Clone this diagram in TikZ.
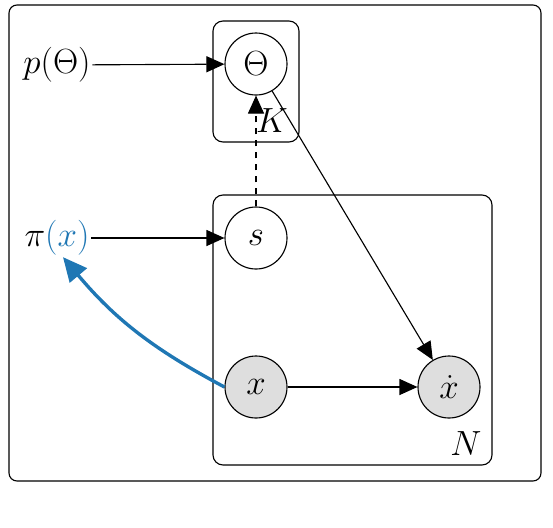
\documentclass[tikz,border=0pt]{standalone}
\usepackage{amsmath, amssymb}
\usepackage{xcolor}
\usepackage{tikz}
\usetikzlibrary{arrows.meta,positioning}
\definecolor{tabblue}{HTML}{1F77B4}

\begin{document}
\begin{tikzpicture}[
			x=0.25mm, y=-0.25mm,
			latent/.style={circle, draw, line width=0.8pt, minimum size=15.5mm, inner sep=0pt, font=\Huge},
			obs/.style={latent, fill=black!13},
			plate/.style={draw, line width=0.8pt, rounded corners=2.5mm},
			edge/.style={-{Triangle[length=4.5mm,width=4mm]}, line width=0.8pt},
			lbl/.style={font=\Huge, inner sep=1pt}
			]
			% Frame
			\useasboundingbox (0,0) rectangle (553,527);
			\draw[line width=0.8pt, rounded corners=2mm] (9,5) rectangle (541,481);
			% Plates
			\draw[plate] (213,21) rectangle (299,142);
			\draw[plate] (213,195) rectangle (492,465);
			\node[lbl] (K) at (272,121) {$K$};
			\node[lbl] (N) at (466,444) {$N$};
			% Nodes
			\node[latent] (theta) at (256,64) {$\Theta$};
			\node[latent] (s) at (256,238) {$s$};
			\node[obs] (x) at (256,387) {$x$};
			\node[obs] (xdot) at (449,387) {$\dot{x}$};
			% Priors
			\node[lbl] (ptheta) at (57,65) {$p(\Theta)$};
			\node[lbl] (pix) at (57,238) {$\pi\textcolor{tabblue}{(x)}$};
			% Edges
			\draw[edge] (ptheta) -- (theta);
			\draw[edge] (pix) -- (s);
			\draw[edge] (x) -- (xdot);
			\draw[edge] (theta) -- (xdot);
			\draw[edge, dash pattern=on 1.7mm off 1.3mm] (s) -- (theta);
			% Feedback to the prior
			\draw[-{Triangle[length=6mm,width=5.5mm]}, tabblue, line width=2.4pt]
				(x.west) to[out=152, in=-50] ([xshift=1.5mm]pix.south);
		\end{tikzpicture}
\end{document}
